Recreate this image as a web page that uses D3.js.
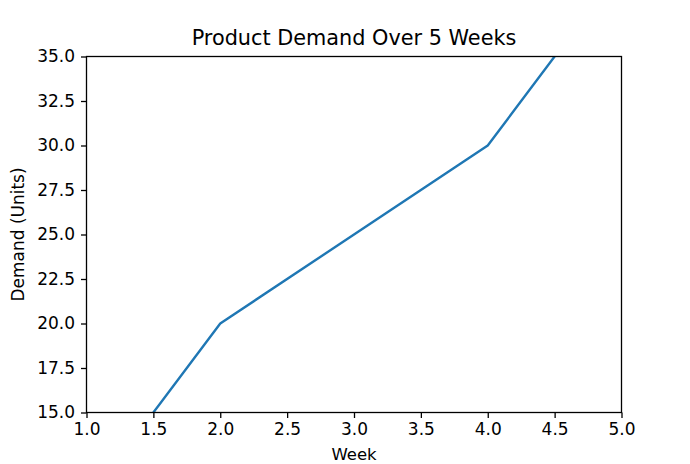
<!DOCTYPE html>
<html><head><meta charset="utf-8">
<script src="https://cdn.jsdelivr.net/npm/d3@7"></script>
<style>body{margin:0;background:#fff}svg{display:block}text{font-family:"DejaVu Sans",sans-serif}</style>
</head><body>
<script>
const weeks = [1, 2, 3, 4, 5];
const demand = [10, 20, 25, 30, 40];
const xTicks = [1.0, 1.5, 2.0, 2.5, 3.0, 3.5, 4.0, 4.5, 5.0];
const yTicks = [15.0, 17.5, 20.0, 22.5, 25.0, 27.5, 30.0, 32.5, 35.0];

const W = 690, H = 464;
const m = {left: 86.5, right: 621.5, top: 56.5, bottom: 412.5};
const svg = d3.select("body").append("svg").attr("width", W).attr("height", H);
const x = d3.scaleLinear().domain([1, 5]).range([m.left, m.right]);
const y = d3.scaleLinear().domain([15, 35]).range([m.bottom, m.top]);

svg.append("clipPath").attr("id", "clip").append("rect")
  .attr("x", m.left).attr("y", m.top).attr("width", m.right - m.left).attr("height", m.bottom - m.top);

const data = weeks.map((w, i) => ({w, v: demand[i]}));
svg.append("path").datum(data)
  .attr("clip-path", "url(#clip)")
  .attr("fill", "none").attr("stroke", "#1f77b4").attr("stroke-width", 2.4)
  .attr("stroke-linejoin", "round").attr("stroke-linecap", "square")
  .attr("d", d3.line().x(d => x(d.w)).y(d => y(d.v)));

const xa = svg.append("g").attr("transform", `translate(0,${m.bottom})`)
  .call(d3.axisBottom(x).tickValues(xTicks).tickFormat(d3.format(".1f")).tickSizeInner(5.5).tickSizeOuter(0).tickPadding(5));
const ya = svg.append("g").attr("transform", `translate(${m.left},0)`)
  .call(d3.axisLeft(y).tickValues(yTicks).tickFormat(d3.format(".1f")).tickSizeInner(5.5).tickSizeOuter(0).tickPadding(6));
[xa, ya].forEach(a => {
  a.select(".domain").remove();
  a.selectAll("line").attr("stroke", "#000").attr("stroke-width", 1.3);
  a.selectAll("text").attr("font-size", "17px").attr("fill", "#000").attr("font-family", "DejaVu Sans");
});

svg.append("rect").attr("x", m.left).attr("y", m.top)
  .attr("width", m.right - m.left).attr("height", m.bottom - m.top)
  .attr("fill", "none").attr("stroke", "#000").attr("stroke-width", 1.3);

svg.append("text").attr("x", (m.left + m.right) / 2).attr("y", 45)
  .attr("text-anchor", "middle").attr("font-size", "20.8px").text("Product Demand Over 5 Weeks");
svg.append("text").attr("x", (m.left + m.right) / 2).attr("y", 460)
  .attr("text-anchor", "middle").attr("font-size", "16.5px").text("Week");
svg.append("text").attr("transform", `translate(24,${(m.top + m.bottom) / 2}) rotate(-90)`)
  .attr("text-anchor", "middle").attr("font-size", "17px").text("Demand (Units)");
</script>
</body></html>
